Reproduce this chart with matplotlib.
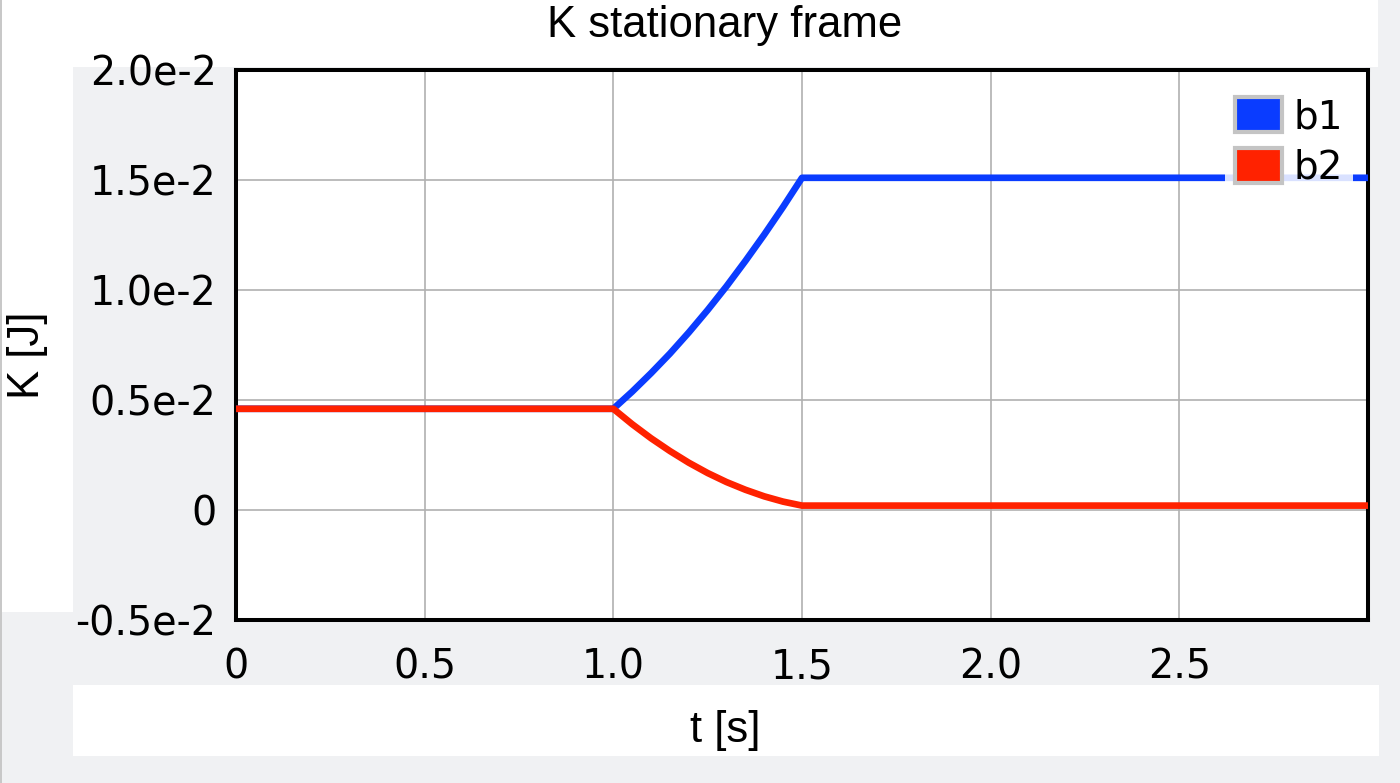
import matplotlib
matplotlib.use("Agg")
import matplotlib.pyplot as plt
from matplotlib.patches import Rectangle, Patch

# data
t = [0.0, 1.0, 1.05, 1.1, 1.15, 1.2, 1.25, 1.3, 1.35, 1.4, 1.45, 1.5, 3.0]
b1 = [0.0046, 0.0046, 0.00538, 0.00622, 0.00711, 0.00807, 0.00909,
      0.01017, 0.01132, 0.01252, 0.01378, 0.0151, 0.0151]
b2 = [0.0046, 0.0046, 0.00390, 0.00326, 0.00268, 0.00215, 0.00168,
      0.00127, 0.00092, 0.00062, 0.00038, 0.0002, 0.0002]

x_ticks = [0, 0.5, 1.0, 1.5, 2.0, 2.5]
x_labels = ["0", "0.5", "1.0", "1.5", "2.0", "2.5"]
y_ticks = [-0.005, 0, 0.005, 0.01, 0.015, 0.02]
y_labels = ["-0.5e-2", "0", "0.5e-2", "1.0e-2", "1.5e-2", "2.0e-2"]

BLUE = "#0a3cff"
RED = "#ff2200"
GRAY_BG = "#f0f1f3"

plt.rcParams['font.family'] = ['DejaVu Sans']

W, H = 1400, 783
fig = plt.figure(figsize=(W / 100, H / 100), dpi=100, facecolor=GRAY_BG)


def px_rect(x0, y0, x1, y1, color):
    # rectangle given in pixel coords, origin top-left
    r = Rectangle((x0 / W, 1 - y1 / H), (x1 - x0) / W, (y1 - y0) / H,
                  transform=fig.transFigure, facecolor=color,
                  edgecolor="none", zorder=-10)
    fig.patches.append(r)


# white panels of the screenshot background
px_rect(0, 0, 1378, 67, "white")
px_rect(0, 0, 73, 612, "white")
px_rect(73, 685, 1379, 756, "white")
px_rect(0, 0, 2, H, "#c8c8c8")

ax = fig.add_axes([236 / W, 1 - 620 / H, (1368 - 236) / W, (620 - 70) / H])
ax.set_facecolor("white")

ax.plot(t, b1, color=BLUE, lw=4.8, solid_capstyle="butt", zorder=3)
ax.plot(t, b2, color=RED, lw=4.8, solid_capstyle="butt", zorder=4)

ax.set_xlim(0, 3)
ax.set_ylim(-0.005, 0.02)
ax.set_xticks(x_ticks)
ax.set_xticklabels(x_labels)
ax.set_yticks(y_ticks)
ax.set_yticklabels(y_labels)
ax.tick_params(axis="both", length=0, labelsize=28.5, colors="black")
ax.tick_params(axis="y", pad=14)
ax.tick_params(axis="x", pad=20)
ax.grid(True, color="#b0b0b0", lw=1.2)
ax.set_axisbelow(True)
for s in ax.spines.values():
    s.set_linewidth(2.9)
    s.set_color("black")

handles = [Patch(facecolor=BLUE, edgecolor="#c4c4c4", linewidth=3, label="b1"),
           Patch(facecolor=RED, edgecolor="#c4c4c4", linewidth=3, label="b2")]
leg = ax.legend(handles=handles, loc="upper right",
                bbox_to_anchor=((1353 - 236) / 1132, (620 - 87) / 550),
                borderaxespad=0, fontsize=28, handlelength=1.2,
                handleheight=1.02, handletextpad=0.3, labelspacing=0.3,
                borderpad=0.26, frameon=True, fancybox=False,
                framealpha=0.85, edgecolor="none")
leg.get_frame().set_linewidth(0)

fig.text(725 / W, 1 - 37 / H, "K stationary frame", family="Liberation Sans",
         fontsize=31.5, ha="center", va="baseline")
fig.text(725 / W, 1 - 742 / H, "t [s]", family="Liberation Sans",
         fontsize=31.5, ha="center", va="baseline")
fig.text(28 / W, 1 - 355 / H, "K [J]", family="Liberation Sans",
         fontsize=31.5, ha="center", va="center", rotation=90)

fig.savefig("out.png", dpi=100, facecolor=fig.get_facecolor())
